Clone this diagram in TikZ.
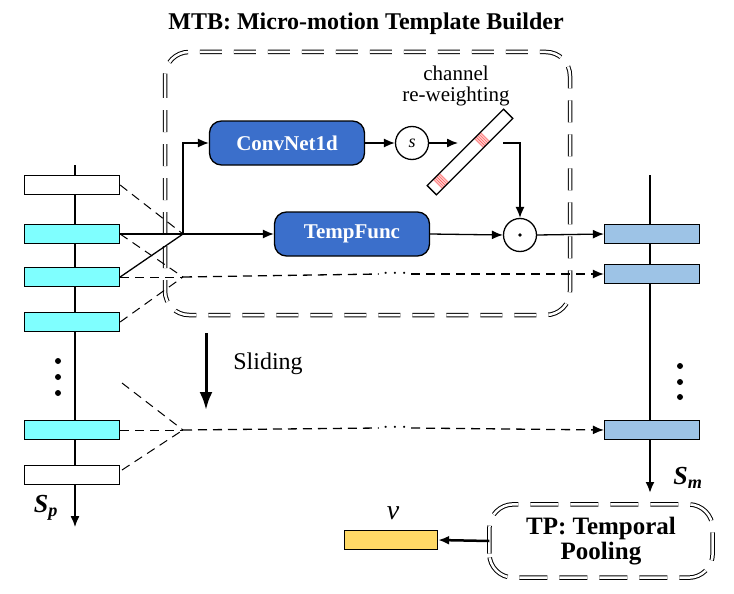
\documentclass[tikz,border=0pt]{standalone}
\usepackage{fontspec}
\setmainfont{Liberation Serif}
\usetikzlibrary{arrows.meta}
\definecolor{cyanbox}{HTML}{7FFFFF}
\definecolor{bluebox}{HTML}{9DC3E6}
\definecolor{modblue}{HTML}{3B6FCB}
\definecolor{yelbox}{HTML}{FFD966}
\newcommand{\fsz}[1]{\fontsize{#1}{#1}\selectfont}
\begin{document}
\begin{tikzpicture}[x=1pt,y=-1pt,line width=1.3pt,>={Latex[length=11pt,width=9pt]},
  feat/.style={draw,minimum width=95pt,minimum height=19pt,inner sep=0pt},
  mod/.style={draw,fill=modblue,rounded corners=12pt,text=white,font=\bfseries\fsz{21},minimum height=44pt,inner sep=0pt},
  dbl/.style={double,line width=1pt,double distance=2.5pt,dash pattern=on 22pt off 12pt,rounded corners=24pt},
  dd/.style={dash pattern=on 9pt off 6pt},
  op/.style={draw,circle,minimum size=33pt,inner sep=0pt,fill=white}]
\useasboundingbox (0,0) rectangle (734,594);
\node[font=\bfseries\fsz{24}] (title) at (366,24) {MTB: Micro-motion Template Builder};
\draw[dbl] (165,52) rectangle (570,315);
% left sequence
\coordinate (ltop) at (75,165); \coordinate (lbot) at (75,527);
\draw[->] (ltop) -- (lbot);
\node[feat,fill=white] (l1) at (72,185) {};
\node[feat,fill=cyanbox] (l2) at (72,234) {};
\node[feat,fill=cyanbox] (l3) at (72,277) {};
\node[feat,fill=cyanbox] (l4) at (72,322) {};
\node[feat,fill=cyanbox] (l5) at (72,430) {};
\node[feat,fill=white] (l6) at (72,475) {};
\foreach \y in {361,377,393} \fill (58,\y) circle (3pt);
\node[font=\bfseries\itshape\fsz{26}] (sp) at (46,508) {S\textsubscript{\itshape p}};
% right sequence
\coordinate (rtop) at (650,175); \coordinate (rbot) at (650,493);
\draw[line width=2pt,->] (rtop) -- (rbot);
\node[feat,fill=bluebox] (r1) at (652,234) {};
\node[feat,fill=bluebox] (r2) at (652,274) {};
\node[feat,fill=bluebox] (r3) at (652,430) {};
\foreach \y in {366,382,397} \fill (680,\y) circle (3pt);
\node[font=\bfseries\itshape\fsz{26}] (sm) at (688,478) {S\textsubscript{\itshape m}};
% junctions
\coordinate (j1) at (183,234); \coordinate (j2) at (183,277); \coordinate (j3) at (183,430);
\draw[dd,line width=1pt] (l1.east) -- (j1);
\draw (l2.east) -- (j1); \draw (l3.east) -- (j1);
\draw[dd,line width=1pt] (l2.east) -- (j2); \draw[dd,line width=1pt] (l3.east) -- (j2); \draw[dd,line width=1pt] (l4.east) -- (j2);
\coordinate (w1) at (122,383); \coordinate (w2) at (122,470);
\draw[dd,line width=1pt] (w1) -- (j3); \draw[dd,line width=1pt] (l5.east) -- (j3); \draw[dd,line width=1pt] (w2) -- (j3);
% modules
\node[mod,minimum width=155pt] (conv) at (287,143) {ConvNet1d};
\node[mod,minimum width=155pt] (temp) at (352,234) {TempFunc};
\node[op,font=\itshape\fsz{18}] (sig) at (412,143) {s};
\node[op] (dot) at (520,235) {};
\fill (dot.center) circle (1.8pt);
\coordinate (jc) at (183,143);
\draw[->] (j1) -- (jc) -- (conv.west);
\draw[->] (j1) -- (temp.west);
\draw[->] (conv.east) -- (sig.west);
% channel re-weighting bar
\begin{scope}[shift={(470,152)},rotate=45]
  \fill[white] (-54,-6.5) rectangle (54,6.5);
  \fill[red!20] (-46,-6.5) rectangle (-36,6.5);
  \fill[red!20] (12,-6.5) rectangle (22,6.5);
  \foreach \t in {-45,-43,...,-37} \draw[red!70,line width=0.4pt] (\t,-6.5) -- (\t,6.5);
  \foreach \t in {13,15,...,21} \draw[red!70,line width=0.4pt] (\t,-6.5) -- (\t,6.5);
  \draw (-54,-6.5) rectangle (54,6.5);
\end{scope}
\node[align=center,font=\fsz{21}] (cw) at (456,86) {channel\\re-weighting};
\draw[->] (sig.east) -- (458,143);
\coordinate (bo) at (503,143); \coordinate (bc) at (520,143);
\draw[->] (bo) -- (bc) -- (dot.north);
\draw[->] (temp.east) -- (dot.west);
\draw[->] (dot.east) -- (r1.west);
% sliding rows
\node[font=\fsz{20}] (e1) at (395,274) {$\cdots$};
\node[font=\fsz{20}] (e2) at (395,428) {$\cdots$};
\draw[dd] (j2) -- (e1.west); \draw[dd,->] (e1.east) -- (r2.west);
\draw[dd] (j3) -- (e2.west); \draw[dd,->] (e2.east) -- (r3.west);
% sliding arrow
\coordinate (s1) at (206,333); \coordinate (s2) at (206,410);
\draw[line width=3pt,-{Latex[length=18pt,width=13pt]}] (s1) -- (s2);
\node[font=\fsz{24}] (sl) at (268,364) {Sliding};
% temporal pooling
\node[align=center,font=\bfseries\fsz{25},minimum width=222pt,minimum height=72pt] (tp) at (601,541) {TP: Temporal\\Pooling};
\draw[dbl,dash pattern=on 28pt off 12pt] (tp.south west) rectangle (tp.north east);
\node[draw,fill=yelbox,minimum width=93pt,minimum height=19pt,inner sep=0pt] (v) at (391,540) {};
\node[font=\itshape\fsz{28}] (vl) at (393,513) {v};
\draw[line width=2.5pt,->] (tp.west) -- (v.east);
\end{tikzpicture}
\end{document}
